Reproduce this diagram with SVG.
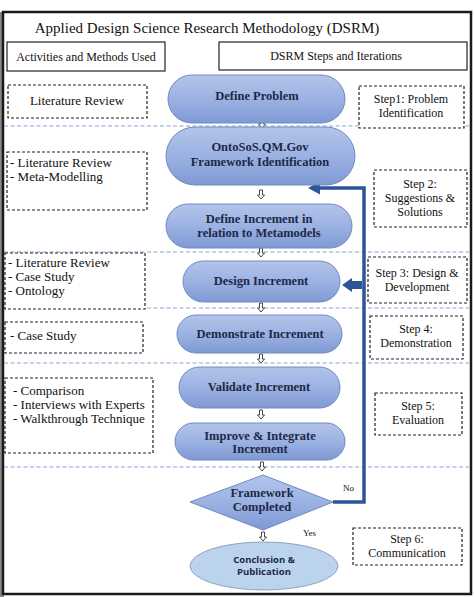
<svg xmlns="http://www.w3.org/2000/svg" width="474" height="597" viewBox="0 0 474 597">
<defs>
<linearGradient id="pg" x1="0" y1="0" x2="0" y2="1">
<stop offset="0" stop-color="#b3c4ea"/>
<stop offset="0.5" stop-color="#9bb2e2"/>
<stop offset="1" stop-color="#7f99d3"/>
</linearGradient>
<path id="dn" d="M-1.5,0 H1.5 V5 H3.5 L0,9 L-3.5,5 H-1.5 Z" fill="#fff" stroke="#333" stroke-width="0.9"/>
</defs>
<style>
.frame{fill:#fff;stroke:#1a1a1a;stroke-width:2.5}
.box{fill:#fff;stroke:#222;stroke-width:1.2}
.dbox{fill:#fff;stroke:#222;stroke-width:1.2;stroke-dasharray:3 2}
.sep{stroke:#8aa4d6;stroke-width:1.2;stroke-dasharray:4 2.5;fill:none}
.pill{fill:url(#pg);stroke:#7089c2;stroke-width:1}
.t{font-family:"Liberation Serif",serif;fill:#111}
.pt{font-family:"Liberation Serif",serif;font-weight:bold;fill:#1f2846;font-size:12.5px;text-anchor:middle}
.st{font-family:"Liberation Serif",serif;fill:#111;font-size:12px;text-anchor:middle}
.lt{font-family:"Liberation Serif",serif;fill:#111;font-size:13px}
.fb{stroke:#2e5597;stroke-width:3.5;fill:none}
</style>
<rect x="0" y="0" width="474" height="597" fill="#fff"/>
<rect x="0" y="12" width="4" height="585" fill="#888"/>
<rect class="frame" x="3" y="12" width="468" height="582"/>
<text class="t" x="207" y="33" font-size="15" text-anchor="middle">Applied Design Science Research Methodology (DSRM)</text>

<g id="header-left"><rect class="box" x="7" y="42" width="158" height="29"/><text class="t" x="86" y="61" font-size="12" text-anchor="middle">Activities and Methods Used</text></g>
<g id="header-right"><rect class="box" x="219" y="42" width="248" height="28"/><text class="t" x="336" y="60" font-size="12" text-anchor="middle">DSRM  Steps and Iterations</text></g>

<g id="separators">
<line class="sep" x1="4" y1="126" x2="470" y2="126"/>
<line class="sep" x1="4" y1="252" x2="470" y2="252"/>
<line class="sep" x1="4" y1="308" x2="470" y2="308"/>
<line class="sep" x1="4" y1="363" x2="470" y2="363"/>
<line class="sep" x1="4" y1="467" x2="470" y2="467"/>
</g>

<g id="left1"><rect class="dbox" x="8" y="85" width="139" height="33"/><text class="lt" x="77" y="105" text-anchor="middle">Literature Review</text></g>
<g id="left2"><rect class="dbox" x="7" y="152" width="140" height="58"/><text class="lt" x="10" y="167">- Literature Review</text><text class="lt" x="10" y="181">- Meta-Modelling</text></g>
<g id="left3"><rect class="dbox" x="5" y="253" width="140" height="56"/><text class="lt" x="8" y="267">- Literature Review</text><text class="lt" x="8" y="281">- Case Study</text><text class="lt" x="8" y="295">- Ontology</text></g>
<g id="left4"><rect class="dbox" x="5" y="322" width="138" height="31"/><text class="lt" x="10" y="340">- Case Study</text></g>
<g id="left5"><rect class="dbox" x="5" y="378" width="148" height="75"/><text class="lt" x="13" y="395">- Comparison</text><text class="lt" x="13" y="409">- Interviews with Experts</text><text class="lt" x="13" y="423">- Walkthrough Technique</text></g>

<g id="step1"><rect class="dbox" x="359" y="86" width="105" height="42"/><text class="st" x="411" y="103" font-size="11">Step1: Problem</text><text class="st" x="411" y="117" font-size="11">Identification</text></g>
<g id="step2"><rect class="dbox" x="374" y="170" width="93" height="57"/><text class="st" x="420" y="188">Step 2:</text><text class="st" x="420" y="202">Suggestions &amp;</text><text class="st" x="420" y="216">Solutions</text></g>
<g id="step3"><rect class="dbox" x="368" y="257" width="99" height="46"/><text class="st" x="417" y="277">Step 3: Design &amp;</text><text class="st" x="417" y="291">Development</text></g>
<g id="step4"><rect class="dbox" x="370" y="316" width="93" height="43"/><text class="st" x="416" y="333">Step 4:</text><text class="st" x="416" y="347">Demonstration</text></g>
<g id="step5"><rect class="dbox" x="375" y="393" width="87" height="42"/><text class="st" x="418" y="410">Step 5:</text><text class="st" x="418" y="424">Evaluation</text></g>
<g id="step6"><rect class="dbox" x="353" y="528" width="109" height="37"/><text class="st" x="407" y="543" font-size="13">Step 6:</text><text class="st" x="407" y="557" font-size="13">Communication</text></g>

<g id="connectors">
<use href="#dn" x="262" y="119"/>
<use href="#dn" x="261" y="190"/>
<use href="#dn" x="261" y="248"/>
<use href="#dn" x="261" y="303"/>
<use href="#dn" x="261" y="354"/>
<use href="#dn" x="261" y="410"/>
<use href="#dn" x="262" y="462"/>
<use href="#dn" x="263" y="532"/>
<polyline class="fb" points="333,502 364,502 364,188 318,188"/>
<path d="M308,188 L320,181.5 L320,194.5 Z" fill="#2e5597"/>
<path d="M342,285 L352,278 L352,281 L362,281 L362,289 L352,289 L352,292 Z" fill="#2e5597"/>
<text class="t" x="343" y="491" font-size="9">No</text>
<text class="t" x="303" y="536" font-size="9">Yes</text>
</g>

<g id="n-define-problem"><rect class="pill" x="168" y="75" width="177" height="48" rx="24"/><text class="pt" x="257" y="100">Define Problem</text></g>
<g id="n-ontosos"><rect class="pill" x="166" y="127" width="189" height="58" rx="29"/><text class="pt" x="260" y="151">OntoSoS.QM.Gov</text><text class="pt" x="260" y="166">Framework Identification</text></g>
<g id="n-define-increment"><rect class="pill" x="166" y="204" width="186" height="44" rx="22"/><text class="pt" x="259" y="223">Define Increment in</text><text class="pt" x="259" y="237">relation to Metamodels</text></g>
<g id="n-design"><rect class="pill" x="183" y="261" width="157" height="41" rx="20.5"/><text class="pt" x="261" y="285">Design Increment</text></g>
<g id="n-demonstrate"><rect class="pill" x="177" y="315" width="165" height="38" rx="19"/><text class="pt" x="260" y="338">Demonstrate Increment</text></g>
<g id="n-validate"><rect class="pill" x="179" y="367" width="161" height="41" rx="20.5"/><text class="pt" x="259" y="391">Validate Increment</text></g>
<g id="n-improve"><rect class="pill" x="175" y="423" width="170" height="37" rx="18.5"/><text class="pt" x="260" y="440">Improve &amp; Integrate</text><text class="pt" x="260" y="453">Increment</text></g>
<g id="n-decision"><path d="M263,475 L333,502 L263,530 L190,502 Z" fill="url(#pg)" stroke="#7089c2" stroke-width="1"/><text class="pt" x="262" y="497" font-size="10">Framework</text><text class="pt" x="262" y="511" font-size="10">Completed</text></g>
<g id="n-conclusion"><ellipse cx="264" cy="566" rx="74" ry="24" fill="#bcd3ee" stroke="#8ca3c8" stroke-width="1"/><text x="264" y="563" font-family="Open Sans, sans-serif" font-weight="bold" font-size="9.5" fill="#1f2846" text-anchor="middle">Conclusion &amp;</text><text x="264" y="575" font-family="Open Sans, sans-serif" font-weight="bold" font-size="9.5" fill="#1f2846" text-anchor="middle">Publication</text></g>
</svg>
